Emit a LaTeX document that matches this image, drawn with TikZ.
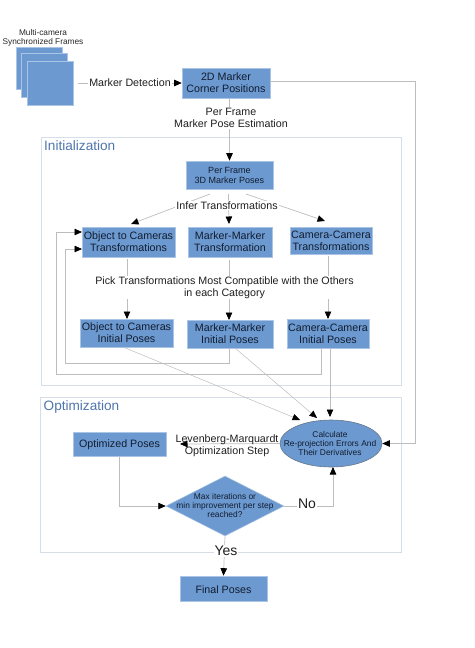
\documentclass[tikz,border=0pt]{standalone}
\usepackage{fontspec}
\setmainfont{Liberation Sans}
\usetikzlibrary{arrows.meta,shapes.geometric,calc}
\definecolor{boxfill}{HTML}{6C9AD0}
\definecolor{boxedge}{HTML}{A9C4E4}
\definecolor{wire}{HTML}{BDBDBD}
\definecolor{framec}{HTML}{D6DEE8}
\definecolor{titlec}{HTML}{4F75AC}
\definecolor{inktext}{HTML}{121C30}
\tikzset{
  bluebox/.style={draw=boxedge,line width=0.6pt,fill=boxfill,inner sep=0pt,align=center,text=inktext,font=\fontsize{10.7}{12}\selectfont,execute at begin node={\rule{0pt}{9.7pt}}},
  smallbox/.style={draw=boxedge,line width=0.6pt,fill=boxfill,inner sep=0pt,align=center,text=inktext,font=\fontsize{9}{10}\selectfont},
  framebox/.style={draw=framec,line width=0.9pt,inner sep=0pt},
  sheet/.style={fill=boxfill,draw=boxedge,line width=0.4pt,inner sep=0pt},
  title/.style={text=titlec,font=\fontsize{13.6}{16}\selectfont,inner sep=0pt,anchor=west},
  lab/.style={align=center,text=black!88,font=\fontsize{10.7}{12}\selectfont,fill=white,inner sep=1pt},
  bare/.style={lab,fill=none},
  big/.style={lab,font=\fontsize{14}{16}\selectfont},
  wired/.style={draw=wire,line width=0.7pt},
  arr/.style={wired,-{Triangle[black,length=7.5pt,width=6.5pt]}},
}
\begin{document}
\begin{tikzpicture}[x=1pt,y=-1pt]
\useasboundingbox (0,0) rectangle (474,648);
% frames
\node[framebox,minimum width=360pt,minimum height=248pt] (init) at (221,261) {};
\node[framebox,minimum width=361pt,minimum height=155pt] (opt) at (220.5,474.5) {};
\node[title] (inittitle) at (44,146) {Initialization};
\node[title] (opttitle) at (43.5,407) {Optimization};
% stacked sheets
\node[sheet,minimum width=46pt,minimum height=42pt] (sheetA) at (39,68) {};
\node[sheet,minimum width=46pt,minimum height=44pt] (sheetB) at (44,75) {};
\node[sheet,minimum width=46pt,minimum height=44pt] (sheetC) at (50,83) {};
\node[align=center,inner sep=0pt,text=black!85,font=\fontsize{8.3}{9}\selectfont] (caption) at (43,38) {Multi-camera\\Synchronized Frames};
% boxes
\node[bluebox,minimum width=88pt,minimum height=30pt] (corners) at (226,83) {2D Marker\\Corner Positions};
\node[smallbox,minimum width=87pt,minimum height=28pt] (poses3d) at (229.5,175) {Per Frame\\3D Marker Poses};
\node[bluebox,minimum width=93pt,minimum height=30pt] (objT) at (128.5,242) {Object to Cameras\\Transformations};
\node[bluebox,minimum width=84pt,minimum height=30pt] (mmT) at (230,242) {Marker-Marker\\Transformation};
\node[bluebox,minimum width=82pt,minimum height=27pt] (camT) at (331,240.5) {Camera-Camera\\Transformations};
\node[bluebox,minimum width=93pt,minimum height=28pt] (objI) at (126.5,333) {Object to Cameras\\Initial Poses};
\node[bluebox,minimum width=86pt,minimum height=28pt] (mmI) at (230,334) {Marker-Marker\\Initial Poses};
\node[bluebox,minimum width=82pt,minimum height=29pt] (camI) at (328,333.5) {Camera-Camera\\Initial Poses};
\node[bluebox,minimum width=93pt,minimum height=24pt] (optP) at (119.5,444) {Optimized Poses};
\node[bluebox,minimum width=87pt,minimum height=25pt] (finalP) at (223.5,588.5) {Final Poses};
\node[ellipse,draw=boxedge!60!black,line width=0.6pt,fill=boxfill,inner sep=0pt,minimum width=102pt,minimum height=47pt] (calc) at (331,443.5) {};
\node[align=center,inner sep=0pt,text=inktext,font=\fontsize{8.4}{9.2}\selectfont] (calctext) at (330,443.5) {Calculate\\Re-projection Errors And\\Their Derivatives};
\node[diamond,fill=boxfill,draw=boxedge,line width=0.5pt,inner sep=0pt,minimum width=118pt,minimum height=60pt] (stop) at (225,506) {};
\node[align=center,inner sep=0pt,text=inktext,font=\fontsize{8.4}{9.4}\selectfont] (stoptext) at (225,505.5) {Max iterations or\\min improvement per step\\reached?};
% helper points
\coordinate (detStart) at (78,83);
\coordinate (rightCorner) at (415.5,81.5);
\coordinate (rightEnd) at (415.5,443.5);
\coordinate (inferL) at (210,194);
\coordinate (inferM) at (228.5,194);
\coordinate (inferR) at (246,194);
\coordinate (tipL) at (131,224);
\coordinate (tipM) at (229,224);
\coordinate (tipR) at (325,221);
\coordinate (c1) at (127,259);
\coordinate (c2) at (229,260);
\coordinate (c3) at (328,256);
\coordinate (t1) at (127,319);
\coordinate (t2) at (229,320);
\coordinate (t3) at (328,319);
\coordinate (outerA) at (321,348);
\coordinate (outerB) at (321,374);
\coordinate (outerC) at (56,374);
\coordinate (outerD) at (56,232);
\coordinate (outerE) at (82,232);
\coordinate (innerB) at (229,363);
\coordinate (innerC) at (65,363);
\coordinate (innerD) at (65,249);
\coordinate (innerE) at (82,249);
\coordinate (objS) at (123,347);
\coordinate (mmS) at (235,348);
\coordinate (camS) at (330,348);
\coordinate (calcA) at (300,420);
\coordinate (calcB) at (317,418);
\coordinate (calcC) at (330,417);
\coordinate (lmTip) at (180,444);
\coordinate (optS) at (119,456);
\coordinate (optC) at (119,506);
\coordinate (noC) at (333,506);
\coordinate (noE) at (333,467);
% connectors
\draw[arr] (detStart) -- (corners.west);
\draw[arr] (corners.south -| poses3d.north) -- (poses3d.north);
\draw[wired] (corners.east |- rightCorner) -- (rightCorner) -- (rightEnd);
\draw[arr] (rightEnd) -- (calc.east);
\draw[arr] (inferL) -- (tipL);
\draw[arr] (inferM) -- (tipM);
\draw[arr] (inferR) -- (tipR);
\draw[arr] (c1) -- (t1);
\draw[arr] (c2) -- (t2);
\draw[arr] (c3) -- (t3);
\draw[arr] (outerA) -- (outerB) -- (outerC) -- (outerD) -- (outerE);
\draw[arr] (mmI.south -| innerB) -- (innerB) -- (innerC) -- (innerD) -- (innerE);
\draw[arr,line width=0.5pt] (objS) -- (calcA);
\draw[arr,line width=0.5pt] (mmS) -- (calcB);
\draw[arr] (camS) -- (calcC);
\draw[arr] (calc.west) -- (lmTip);
\draw[arr] (optS) -- (optC) -- (stop.west);
\draw[arr] (stop.east) -- (noC) -- (noE);
\draw[arr] (stop.south) -- (finalP.north);
% labels on connectors
\node[lab] (detLab) at (130,83) {Marker Detection};
\node[lab] (pfLab) at (231,118) {Per Frame\\Marker Pose Estimation};
\node[lab] (infLab) at (227,205.5) {Infer Transformations};
\node[lab] (pickLab) at (224.5,287.5) {Pick Transformations Most Compatible with the Others\\in each Category};
\node[bare] (lmLab) at (227,445.5) {Levenberg-Marquardt\\Optimization Step};
\node[big] (noLab) at (307,504) {No};
\node[big] (yesLab) at (226,551) {Yes};
\end{tikzpicture}
\end{document}
